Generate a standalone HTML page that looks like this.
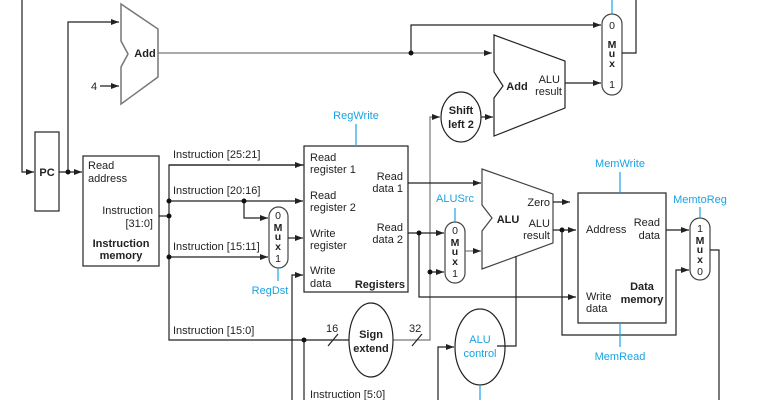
<!DOCTYPE html>
<html><head><meta charset="utf-8"><style>
html,body{margin:0;padding:0;background:#fff;}
svg{display:block;font-family:"Liberation Sans",Arial,sans-serif;font-size:11px;}
.b{font-weight:bold;}
.bl{fill:#1aa3e3;}
</style></head><body>
<svg width="763" height="400" viewBox="0 0 763 400" xmlns="http://www.w3.org/2000/svg">
<defs>
<marker id="a" markerWidth="8" markerHeight="6" refX="8" refY="3" orient="auto" markerUnits="userSpaceOnUse"><path d="M0,0 L8,3 L0,6 z" fill="#222"/></marker>
</defs>
<g fill="none" stroke="#222" stroke-width="1.2">
<!-- PC feedback -->
<polyline points="22,0 22,172 34,172" marker-end="url(#a)"/>
<rect x="35" y="132" width="24" height="79"/>
<line x1="59" y1="172" x2="82" y2="172" marker-end="url(#a)"/>
<polyline points="68,172 68,22 119,22" marker-end="url(#a)"/>
<line x1="100" y1="86" x2="119" y2="86" marker-end="url(#a)"/>
<!-- Add 1 -->
<polygon points="121,4 158,29 158,77 121,104 121,67 128,54 121,41" stroke="#777" stroke-width="1.5"/>
<line x1="158" y1="53" x2="492" y2="53" stroke="#777" marker-end="url(#a)"/>
<polyline points="411,53 411,25 601,25" marker-end="url(#a)"/>
<!-- Add 2 -->
<polygon points="494,35 565,61 565,108 494,136 494,98 503,86 494,72" stroke="#222"/>
<line x1="565" y1="83" x2="601" y2="83" marker-end="url(#a)"/>
<!-- top mux -->
<rect x="602" y="14" width="20" height="81" rx="10" ry="10" stroke="#444"/>
<polyline points="622,53 636,53 636,0"/>
<!-- shift left 2 -->
<ellipse cx="461" cy="117" rx="20" ry="25"/>
<line x1="481" y1="117" x2="493" y2="117" marker-end="url(#a)"/>
<polyline points="393,340 430,340 430,117 440,117" stroke="#777" marker-end="url(#a)"/>
<!-- Instruction memory -->
<rect x="83" y="156" width="76" height="110"/>
<line x1="159" y1="216" x2="169" y2="216"/>
<polyline points="304,165 169,165 169,340 349,340"/>
<line x1="169" y1="165" x2="303" y2="165" marker-end="url(#a)"/>
<line x1="169" y1="201" x2="303" y2="201" marker-end="url(#a)"/>
<polyline points="244,201 244,218 268,218" marker-end="url(#a)"/>
<line x1="169" y1="257" x2="268" y2="257" marker-end="url(#a)"/>
<rect x="269" y="207" width="19" height="61" rx="9.5" ry="9.5" stroke="#444"/>
<line x1="288" y1="238" x2="303" y2="238" marker-end="url(#a)"/>
<polyline points="292,400 292,275 303,275" marker-end="url(#a)"/>
<line x1="304" y1="340" x2="304" y2="400"/>
<line x1="328" y1="346" x2="338" y2="334"/>
<line x1="412" y1="346" x2="422" y2="334"/>
<!-- Registers -->
<rect x="304" y="146" width="104" height="146"/>
<ellipse cx="371" cy="340" rx="22" ry="37"/>
<line x1="408" y1="183" x2="481" y2="183" marker-end="url(#a)"/>
<line x1="408" y1="233" x2="444" y2="233" marker-end="url(#a)"/>
<polyline points="419,233 419,297 576,297" marker-end="url(#a)"/>
<line x1="430" y1="272" x2="444" y2="272" marker-end="url(#a)"/>
<rect x="445" y="222" width="20" height="61" rx="10" ry="10" stroke="#444"/>
<line x1="465" y1="251" x2="481" y2="251" stroke="#777" marker-end="url(#a)"/>
<!-- ALU -->
<polygon points="482,169 553,194 553,243 482,269 482,231 492,218 482,205" stroke="#444"/>
<line x1="553" y1="202" x2="570" y2="202" marker-end="url(#a)"/>
<line x1="553" y1="230" x2="576" y2="230" marker-end="url(#a)"/>
<polyline points="562,230 562,335 676,335 676,270 689,270" marker-end="url(#a)"/>
<polyline points="516,256 516,346 497,346"/>
<ellipse cx="480" cy="347" rx="25" ry="38"/>
<polyline points="438,400 438,347 454,347" marker-end="url(#a)"/>
<!-- Data memory -->
<rect x="578" y="193" width="88" height="130"/>
<line x1="666" y1="230" x2="689" y2="230" marker-end="url(#a)"/>
<rect x="690" y="218" width="20" height="62" rx="10" ry="10" stroke="#444"/>
<polyline points="710,250 719,250 719,400"/>
</g>
<g fill="#111">
<circle cx="68" cy="172" r="2.5"/><circle cx="411" cy="53" r="2.5"/>
<circle cx="169" cy="201" r="2.5"/><circle cx="169" cy="216" r="2.5"/><circle cx="169" cy="257" r="2.5"/>
<circle cx="244" cy="201" r="2.5"/><circle cx="304" cy="340" r="2.5"/>
<circle cx="419" cy="233" r="2.5"/><circle cx="430" cy="272" r="2.5"/><circle cx="562" cy="230" r="2.5"/>
</g>
<g stroke="#1aa3e3" stroke-width="1.2">
<line x1="612" y1="0" x2="612" y2="14"/>
<line x1="356" y1="124" x2="356" y2="146"/>
<line x1="278" y1="268" x2="278" y2="281"/>
<line x1="455" y1="208" x2="455" y2="222"/>
<line x1="620" y1="172" x2="620" y2="193"/>
<line x1="620" y1="323" x2="620" y2="347"/>
<line x1="700" y1="207" x2="700" y2="218"/>
<line x1="480" y1="385" x2="480" y2="400"/>
</g>
<g fill="#222">
<text x="47" y="176" text-anchor="middle" class="b">PC</text>
<text x="91" y="90">4</text>
<text x="145" y="57" text-anchor="middle" class="b">Add</text>
<text x="517" y="90" text-anchor="middle" class="b">Add</text>
<text x="560" y="83" text-anchor="end">ALU</text>
<text x="562" y="95" text-anchor="end">result</text>
<g text-anchor="middle" font-size="10.5">
<text x="612" y="29">0</text><text x="612" y="48" class="b">M</text><text x="612" y="57" class="b">u</text><text x="612" y="67" class="b">x</text><text x="612" y="88">1</text>
<text x="278" y="219">0</text><text x="278" y="231" class="b">M</text><text x="278" y="240" class="b">u</text><text x="278" y="250" class="b">x</text><text x="278" y="262">1</text>
<text x="455" y="234">0</text><text x="455" y="246" class="b">M</text><text x="455" y="255" class="b">u</text><text x="455" y="265" class="b">x</text><text x="455" y="277">1</text>
<text x="700" y="232">1</text><text x="700" y="244" class="b">M</text><text x="700" y="253" class="b">u</text><text x="700" y="263" class="b">x</text><text x="700" y="275">0</text>
</g>
<text x="461" y="114" text-anchor="middle" class="b">Shift</text>
<text x="461" y="128" text-anchor="middle" class="b">left 2</text>
<text x="88" y="169">Read</text><text x="88" y="182">address</text>
<text x="153" y="214" text-anchor="end">Instruction</text><text x="153" y="227" text-anchor="end">[31:0]</text>
<text x="121" y="247" text-anchor="middle" class="b">Instruction</text><text x="121" y="259" text-anchor="middle" class="b">memory</text>
<text x="173" y="158">Instruction [25:21]</text>
<text x="173" y="194">Instruction [20:16]</text>
<text x="173" y="250">Instruction [15:11]</text>
<text x="173" y="334">Instruction [15:0]</text>
<text x="310" y="398">Instruction [5:0]</text>
<text x="326" y="332">16</text><text x="409" y="332">32</text>
<text x="310" y="161">Read</text><text x="310" y="173">register 1</text>
<text x="310" y="199">Read</text><text x="310" y="211">register 2</text>
<text x="310" y="237">Write</text><text x="310" y="249">register</text>
<text x="310" y="274">Write</text><text x="310" y="287">data</text>
<text x="405" y="288" text-anchor="end" class="b">Registers</text>
<text x="403" y="180" text-anchor="end">Read</text><text x="403" y="192" text-anchor="end">data 1</text>
<text x="403" y="231" text-anchor="end">Read</text><text x="403" y="243" text-anchor="end">data 2</text>
<text x="371" y="338" text-anchor="middle" class="b">Sign</text><text x="371" y="352" text-anchor="middle" class="b">extend</text>
<text x="508" y="223" text-anchor="middle" class="b">ALU</text>
<text x="550" y="206" text-anchor="end">Zero</text>
<text x="550" y="227" text-anchor="end">ALU</text><text x="550" y="239" text-anchor="end">result</text>
<text x="586" y="233">Address</text>
<text x="660" y="226" text-anchor="end">Read</text><text x="660" y="239" text-anchor="end">data</text>
<text x="586" y="300">Write</text><text x="586" y="312">data</text>
<text x="642" y="290" text-anchor="middle" class="b">Data</text><text x="642" y="303" text-anchor="middle" class="b">memory</text>
</g>
<g class="bl">
<text x="356" y="119" text-anchor="middle">RegWrite</text>
<text x="270" y="294" text-anchor="middle">RegDst</text>
<text x="455" y="202" text-anchor="middle">ALUSrc</text>
<text x="620" y="167" text-anchor="middle">MemWrite</text>
<text x="620" y="360" text-anchor="middle">MemRead</text>
<text x="700" y="203" text-anchor="middle">MemtoReg</text>
<text x="480" y="343" text-anchor="middle">ALU</text>
<text x="480" y="357" text-anchor="middle">control</text>
</g>
</svg>
</body></html>
